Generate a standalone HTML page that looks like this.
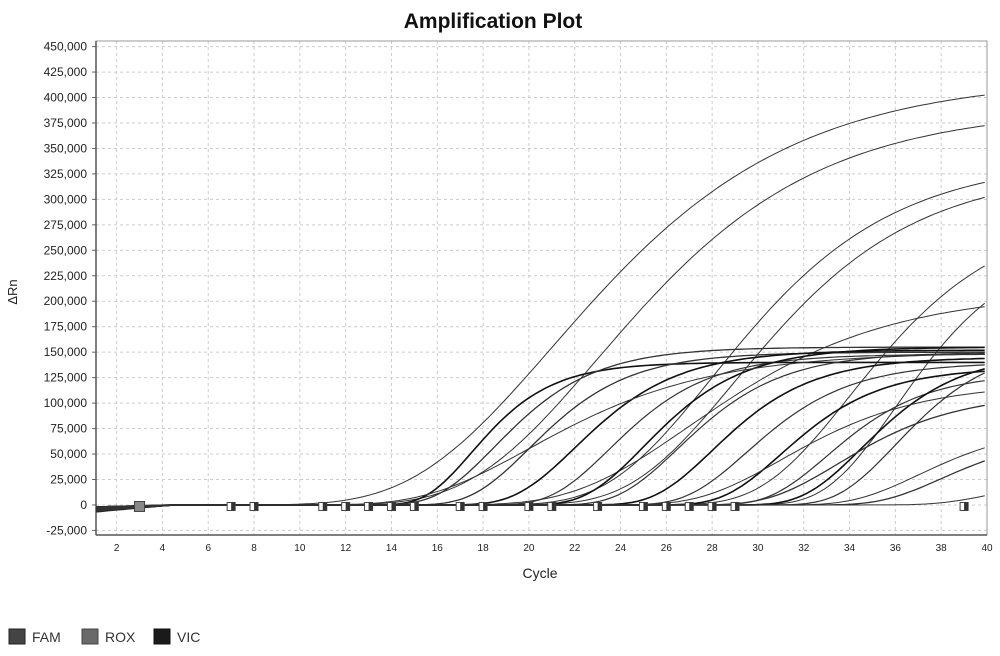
<!DOCTYPE html>
<html><head><meta charset="utf-8"><style>
body{margin:0;background:#fff;font-family:"Liberation Sans",Arial,sans-serif;}
#wrap{position:relative;width:1000px;height:656px;overflow:hidden}
</style></head><body>
<div id="wrap">
<svg id="chart" width="1000" height="656">
<text x="493" y="28" text-anchor="middle" font-size="21" font-weight="bold" fill="#111">Amplification Plot</text>
<text x="0" y="0" transform="translate(17,292) rotate(-90)" text-anchor="middle" font-size="13" fill="#222">ΔRn</text>
<text x="540" y="578" text-anchor="middle" font-size="14" fill="#222">Cycle</text>
<g>
<g><rect x="9" y="629" width="16" height="15" fill="#444" stroke="#222"/><text x="32" y="642" font-size="14" fill="#333">FAM</text></g>
<g><rect x="82" y="629" width="16" height="15" fill="#6a6a6a" stroke="#444"/><text x="105" y="642" font-size="14" fill="#333">ROX</text></g>
<g><rect x="154" y="629" width="16" height="15" fill="#1a1a1a" stroke="#111"/><text x="177" y="642" font-size="14" fill="#333">VIC</text></g>
</g>
<g id="grid"></g>
<g id="axes"></g>
<g id="series"></g>
<g id="markers"></g>
</svg>
</div>
<script>
const yTicks=[-25000,0,25000,50000,75000,100000,125000,150000,175000,200000,225000,250000,275000,300000,325000,350000,375000,400000,425000,450000];
const xTicks=[2,4,6,8,10,12,14,16,18,20,22,24,26,28,30,32,34,36,38,40];
const plateaus=[420000,390000,340000,330000,290000,260000,210000,140000,155000,150000,152000,148000,155000,150000,145000,140000,135000,130000,150000,160000,120000,110000,80000,70000,40000,150000];
const midpoints=[21,23,28,29,34,36,27,17.5,18.5,20,22,23.5,25,26.5,28,29.5,31,33,34.5,36,31,33.5,37,38,41,20];
const slopes=[6,5.5,4.5,4.5,3.8,3,5,2,2.5,2.5,2.6,2.5,2.5,2.6,2.5,2.6,2.5,2.5,2.5,2.5,3.5,3,2.8,2.6,2.8,4.5];
const widths=[1,1,1,1,1,1,1,1.6,1.3,1.3,1.6,1.2,1.6,1.2,1.6,1.2,1.6,1.2,1.6,1.2,1,1.3,1,1.3,1,1];
const startOffsets=[-4000,-6000,-3000,-5000,-2000,-7000,-3000,-5000,-4000,-6000,-2000,-3000,-5000,-4000,-6000,-3000,-2000,-5000,-4000,-3000,-6000,-2000,-5000,-4000,-3000,-2000];
const markerCycles=[3,7,8,11,12,13,14,15,17,18,20,21,23,25,26,27,28,29,39];
const X0=96,X1=987,Y0=41,Y1=535,XMIN=1.1,XMAX=40,YMIN=-29500,YMAX=455500;
const sx=c=>X0+(c-XMIN)/(XMAX-XMIN)*(X1-X0);
const sy=v=>Y1-(v-YMIN)/(YMAX-YMIN)*(Y1-Y0);
const NS="http://www.w3.org/2000/svg";
function mk(tag,attrs,parent){const e=document.createElementNS(NS,tag);for(const k in attrs)e.setAttribute(k,attrs[k]);parent.appendChild(e);return e;}
const grid=document.getElementById('grid'),axes=document.getElementById('axes'),series=document.getElementById('series'),markers=document.getElementById('markers');
yTicks.forEach(v=>{
 const l=mk('line',{x1:X0,x2:X1,y1:sy(v),y2:sy(v),stroke:'#ccc','stroke-dasharray':'3,3','stroke-width':1},grid);
 
 
 const t=mk('text',{x:X0-9,y:sy(v)+4,'text-anchor':'end','font-size':12,fill:'#222'},axes);
 t.textContent=v===0?'0':v.toLocaleString('en-US');
 
 
 const tk=mk('line',{x1:X0-4,x2:X0,y1:sy(v),y2:sy(v),stroke:'#666'},axes);
 
 
});
xTicks.forEach(c=>{
 const l=mk('line',{x1:sx(c),x2:sx(c),y1:Y0,y2:Y1,stroke:'#ccc','stroke-dasharray':'3,3'},grid);
 
 
 const t=mk('text',{x:sx(c),y:Y1+16,'text-anchor':'middle','font-size':10,fill:'#222'},axes);
 t.textContent=c;
 
 
});
const frame=mk('rect',{x:X0,y:Y0,width:X1-X0,height:Y1-Y0,fill:'none',stroke:'#999','stroke-width':1},axes);


const yl=mk('line',{x1:X0,x2:X0,y1:Y0,y2:Y1,stroke:'#555','stroke-width':1.5},axes);


const xl=mk('line',{x1:X0,x2:X1,y1:Y1,y2:Y1,stroke:'#555','stroke-width':1.5},axes);


const clip=mk('clipPath',{id:'pc'},document.getElementById('chart'));
mk('rect',{x:X0,y:Y0,width:X1-X0,height:Y1-Y0},clip);
series.setAttribute('clip-path','url(#pc)');
plateaus.forEach((P,i)=>{
 let d='';
 for(let c=XMIN;c<=XMAX+0.001;c+=0.2){
  let v=P*Math.exp(-Math.exp(-(c-midpoints[i])/slopes[i]));
  v+=startOffsets[i]*Math.max(0,4.5-c)/3.4;
  d+=(d?'L':'M')+sx(c).toFixed(1)+','+sy(v).toFixed(1);
 }
 const p=mk('path',{d:d,fill:'none',stroke:widths[i]>1.3?'#111':'#333','stroke-width':widths[i]},series);
 
 
});
markerCycles.forEach((c,i)=>{
 const g=mk('g',{},markers);
 
 
 const s=c===3?10:8;
 mk('rect',{x:sx(c)-s/2,y:sy(-1500)-s/2,width:s,height:s,fill:c===3?'#888':'#fff',stroke:'#444','stroke-width':1},g);
 if(c!==3)mk('rect',{x:sx(c),y:sy(-1500)-s/2,width:s/2,height:s,fill:'#333'},g);
});
</script>
</body></html>
